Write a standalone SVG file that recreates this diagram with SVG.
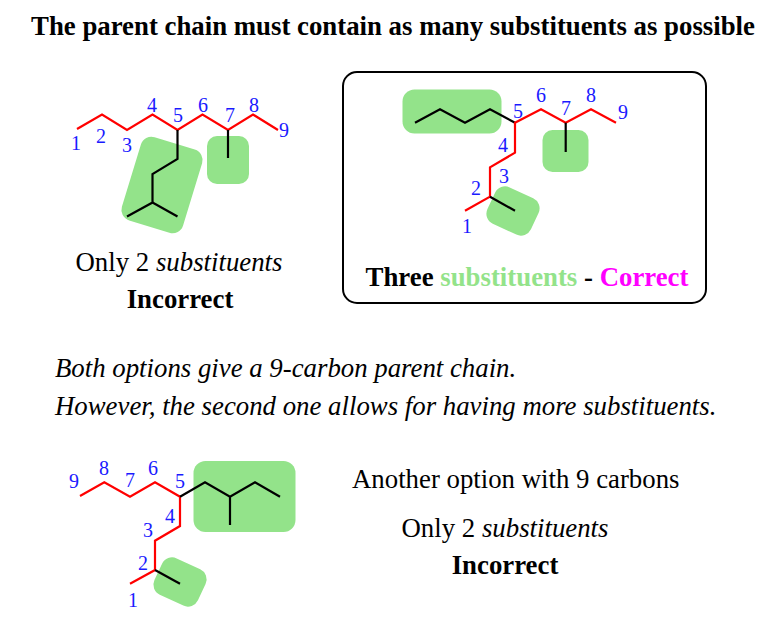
<svg xmlns="http://www.w3.org/2000/svg" width="768" height="621" viewBox="0 0 768 621">
<style>
text{font-family:"Liberation Serif","Times New Roman",serif;}
.t{font-size:26.8px;fill:#000}
.n{font-size:20px;fill:#1a1aff;text-anchor:middle}
.r{fill:none;stroke:#ff0000;stroke-width:2.2;stroke-linejoin:miter}
.k{fill:none;stroke:#000;stroke-width:2.2}
.g{fill:#93e38a}
</style>
<rect width="768" height="621" fill="#fff"/>
<text class="t" x="393" y="35" text-anchor="middle" font-weight="bold">The parent chain must contain as many substituents as possible</text>

<g id="mol1">
<rect class="g" x="-32" y="-43.5" width="64" height="87" rx="11" transform="translate(162,185) rotate(17)"/>
<rect class="g" x="207" y="136" width="42" height="48" rx="10"/>
<polyline class="r" points="77,129 102,114.5 127,130 152.5,114.5 177.5,130 202.5,114.5 228,130 253,114.5 278,130"/>
<polyline class="k" points="177.5,130 177.5,159 152.5,174 152.5,202.5 127,216.5"/>
<line class="k" x1="152.5" y1="202.5" x2="177.5" y2="216.5"/>
<line class="k" x1="228" y1="130" x2="228" y2="158"/>
<text class="n" x="76" y="150">1</text><text class="n" x="101" y="143">2</text><text class="n" x="127" y="152">3</text>
<text class="n" x="152" y="112">4</text><text class="n" x="178" y="122">5</text><text class="n" x="203" y="112">6</text>
<text class="n" x="230" y="122">7</text><text class="n" x="254" y="112">8</text><text class="n" x="284" y="137">9</text>
<text class="t" x="179" y="271" text-anchor="middle">Only 2 <tspan font-style="italic">substituents</tspan></text>
<text class="t" x="180" y="308" text-anchor="middle" font-weight="bold">Incorrect</text>
</g>

<g id="mol2">
<rect x="343" y="72" width="363" height="231" rx="14" fill="none" stroke="#000" stroke-width="2"/>
<rect class="g" x="402.5" y="89.5" width="99" height="44" rx="12"/>
<rect class="g" x="542.5" y="130" width="46" height="42" rx="10"/>
<rect class="g" x="-24" y="-20" width="48" height="40" rx="11" transform="translate(513,211) rotate(25)"/>
<polyline class="k" points="415,122.7 440,109.3 465,122.7 490,109.3 515,122.7"/>
<polyline class="r" points="616,122.7 591,109.3 565.7,122.7 541,109.3 515,122.7 515,152.7 490,167.3 490,196.7 465,210.7"/>
<line class="k" x1="565.7" y1="122.7" x2="565.7" y2="152"/>
<line class="k" x1="490" y1="196.7" x2="515" y2="210.7"/>
<text class="n" x="518" y="118">5</text><text class="n" x="541" y="102">6</text><text class="n" x="566" y="115">7</text>
<text class="n" x="591" y="102">8</text><text class="n" x="623" y="119">9</text><text class="n" x="503" y="152">4</text>
<text class="n" x="504" y="183">3</text><text class="n" x="476" y="195">2</text><text class="n" x="467" y="233">1</text>
<text class="t" x="527" y="286" text-anchor="middle" font-weight="bold">Three <tspan fill="#93e38a">substituents</tspan> - <tspan fill="#ff00ff">Correct</tspan></text>
</g>

<text class="t" x="55" y="377" font-style="italic">Both options give a 9-carbon parent chain.</text>
<text class="t" x="55" y="415" font-style="italic">However, the second one allows for having more substituents.</text>

<g id="mol3">
<rect class="g" x="193.5" y="461" width="102" height="71" rx="12"/>
<rect class="g" x="-24" y="-20" width="48" height="40" rx="11" transform="translate(180,582) rotate(25)"/>
<polyline class="r" points="80,496 104.3,482.3 130,496.7 155,482.3 180,496.7 180,526 155,540.7 155,570 130,583.7"/>
<polyline class="k" points="180,496.7 205,482.3 230,496.7 255,482.3 280,496.7"/>
<line class="k" x1="230" y1="496.7" x2="230" y2="525"/>
<line class="k" x1="155" y1="570" x2="180" y2="583.7"/>
<text class="n" x="74" y="488">9</text><text class="n" x="104" y="475">8</text><text class="n" x="130" y="487">7</text>
<text class="n" x="153" y="475">6</text><text class="n" x="180" y="488">5</text><text class="n" x="170" y="523">4</text>
<text class="n" x="148" y="537">3</text><text class="n" x="143" y="570">2</text><text class="n" x="133" y="607">1</text>
</g>
<text class="t" x="352" y="488">Another option with 9 carbons</text>
<text class="t" x="505" y="537" text-anchor="middle">Only 2 <tspan font-style="italic">substituents</tspan></text>
<text class="t" x="505" y="574" text-anchor="middle" font-weight="bold">Incorrect</text>
</svg>
